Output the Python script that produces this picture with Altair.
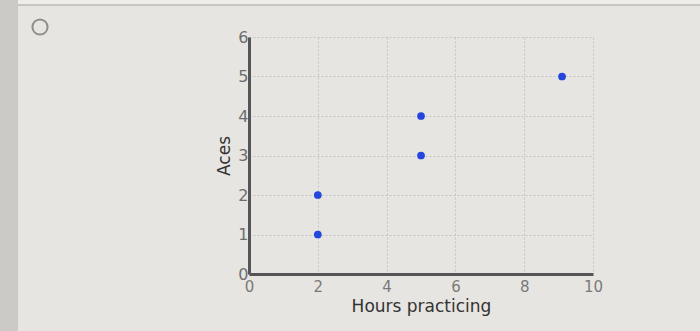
import altair as alt
import pandas as pd

hours = [2, 2, 5, 5, 9.1]
aces = [1, 2, 3, 4, 5]
x_ticks = [0, 2, 4, 6, 8, 10]
y_ticks = [0, 1, 2, 3, 4, 5, 6]

df = pd.DataFrame({"Hours practicing": hours, "Aces": aces})

FONT = "DejaVu Sans"
W, H = 344, 237
LEFT, TOP = 249, 37

# decorations (page chrome)
strip = alt.Chart(pd.DataFrame({"a": [0]})).mark_rect(color="#cbcac7").encode(
    x=alt.value(-LEFT), x2=alt.value(-LEFT + 18), y=alt.value(-TOP), y2=alt.value(331 - TOP)
)
topband = alt.Chart(pd.DataFrame({"a": [0]})).mark_rect(color="#eeedea").encode(
    x=alt.value(-LEFT + 18), x2=alt.value(700 - LEFT), y=alt.value(-TOP), y2=alt.value(-TOP + 5)
)
topline = alt.Chart(pd.DataFrame({"a": [0]})).mark_rule(color="#b9b8b5", strokeWidth=1.5).encode(
    x=alt.value(-LEFT + 18), x2=alt.value(700 - LEFT), y=alt.value(-TOP + 5)
)
radio = alt.Chart(pd.DataFrame({"a": [0]})).mark_point(
    shape="circle", filled=False, stroke="#6b6a68", strokeWidth=2, size=230
).encode(x=alt.value(40 - LEFT), y=alt.value(27 - TOP))

points = alt.Chart(df).mark_circle(color="#2346dc", opacity=1, size=60).encode(
    x=alt.X(
        "Hours practicing:Q",
        scale=alt.Scale(domain=[0, 10], nice=False),
        axis=alt.Axis(
            values=x_ticks, title="Hours practicing", grid=True, gridDash=[2, 2],
            gridColor="#c4c4c4", domainColor="#555555", domainWidth=3, ticks=False,
            labelFont=FONT, labelFontSize=15, labelColor="#7a7a7a", labelPadding=5,
            labelFlush=False,
            titleFont=FONT, titleFontSize=17, titleFontWeight="normal", titleColor="#333333",
            titlePadding=4,
        ),
    ),
    y=alt.Y(
        "Aces:Q",
        scale=alt.Scale(domain=[0, 6], nice=False),
        axis=alt.Axis(
            values=y_ticks, title="Aces", grid=True, gridDash=[2, 2],
            gridColor="#c4c4c4", domainColor="#555555", domainWidth=3, ticks=False,
            labelFont=FONT, labelFontSize=16, labelColor="#6e6e6e", labelPadding=1,
            labelFlush=False,
            titleFont=FONT, titleFontSize=17, titleFontWeight="normal", titleColor="#333333",
            titlePadding=4,
        ),
    ),
)

chart = alt.layer(strip, topband, topline, radio, points).properties(
    width=W, height=H,
    autosize=alt.AutoSizeParams(type="none"),
    padding={"left": LEFT, "top": TOP, "right": 700 - LEFT - W, "bottom": 331 - TOP - H},
    background="#e7e5e1",
).configure_view(stroke=None, clip=False)

chart.save("out.html", embed_options={"renderer": "svg", "actions": False})
